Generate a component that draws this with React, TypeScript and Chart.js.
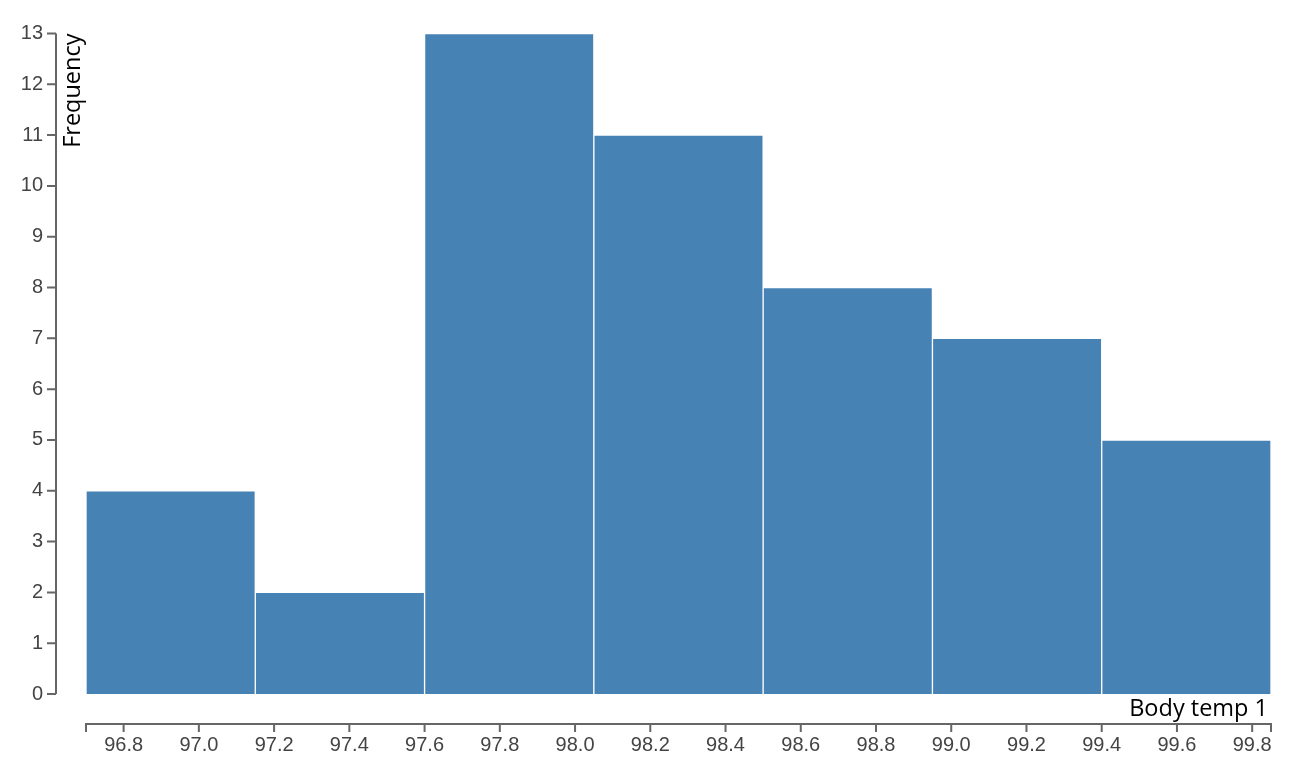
import React, { useEffect, useRef } from "react";
import { Chart, registerables } from "chart.js";

Chart.register(...registerables);

// Histogram bins (edges) and counts
const BIN_EDGES = [96.7, 97.15, 97.6, 98.05, 98.5, 98.95, 99.4, 99.85];
const BIN_LABELS = ["96.7–97.15", "97.15–97.6", "97.6–98.05", "98.05–98.5", "98.5–98.95", "98.95–99.4", "99.4–99.85"];
const COUNTS = [4, 2, 13, 11, 8, 7, 5];
const X_TICKS = [96.8, 97.0, 97.2, 97.4, 97.6, 97.8, 98.0, 98.2, 98.4, 98.6, 98.8, 99.0, 99.2, 99.4, 99.6, 99.8];
const Y_TICKS = [0, 1, 2, 3, 4, 5, 6, 7, 8, 9, 10, 11, 12, 13];
const X_TITLE = "Body temp 1";
const Y_TITLE = "Frequency";

const BAR_COLOR = "#4682b4";
const AXIS_COLOR = "#666666";
const TICK_TEXT = "#444444";
const TICK_FONT = { family: "'Liberation Sans', Arial, sans-serif", size: 20 };

const axesPlugin = {
  id: "offsetAxes",
  afterDraw(chart: any) {
    const ctx = chart.ctx;
    const xs = chart.scales.x;
    const ys = chart.scales.y;
    const area = chart.chartArea;
    ctx.save();
    ctx.strokeStyle = AXIS_COLOR;
    ctx.lineWidth = 2;
    // Y axis line offset to the left of the plot
    const yAxisX = area.left - 30;
    const y0 = ys.getPixelForValue(Y_TICKS[0]);
    const y1 = ys.getPixelForValue(Y_TICKS[Y_TICKS.length - 1]);
    ctx.beginPath();
    ctx.moveTo(yAxisX, y0);
    ctx.lineTo(yAxisX, y1);
    for (const v of Y_TICKS) {
      const py = ys.getPixelForValue(v);
      ctx.moveTo(yAxisX - 9, py);
      ctx.lineTo(yAxisX, py);
    }
    ctx.stroke();
    // X axis line offset below the plot
    const xAxisY = area.bottom + 30;
    const xa = xs.getPixelForValue(BIN_EDGES[0]);
    const xb = xs.getPixelForValue(BIN_EDGES[BIN_EDGES.length - 1]);
    ctx.beginPath();
    ctx.moveTo(xa, xAxisY + 8);
    ctx.lineTo(xa, xAxisY);
    ctx.lineTo(xb, xAxisY);
    ctx.lineTo(xb, xAxisY + 8);
    for (const v of X_TICKS) {
      const px = xs.getPixelForValue(v);
      ctx.moveTo(px, xAxisY);
      ctx.lineTo(px, xAxisY + 8);
    }
    ctx.stroke();
    // Titles
    ctx.fillStyle = "#000";
    ctx.font = "23.5px 'Open Sans'";
    ctx.textAlign = "right";
    ctx.textBaseline = "alphabetic";
    ctx.fillText(X_TITLE, xb - 3, xAxisY - 8);
    ctx.translate(yAxisX + 24, area.top);
    ctx.rotate(-Math.PI / 2);
    ctx.textAlign = "right";
    ctx.fillText(Y_TITLE, 0, 0);
    ctx.restore();
  },
};

export default function App() {
  const ref = useRef<HTMLCanvasElement>(null);
  useEffect(() => {
    document.body.style.margin = "0";
    const chart = new Chart(ref.current!, {
      type: "bar",
      data: {
        labels: BIN_LABELS,
        datasets: [
          {
            data: COUNTS,
            xAxisID: "xb",
            backgroundColor: BAR_COLOR,
            borderColor: "#ffffff",
            borderWidth: 1,
            barPercentage: 1,
            categoryPercentage: 1,
          },
        ],
      },
      options: {
        animation: false,
        responsive: false,
        layout: { padding: { left: 0, top: 33.5, right: 20, bottom: 0 } },
        plugins: { legend: { display: false }, tooltip: { enabled: false } },
        scales: {
          xb: {
            type: "category",
            display: false,
            offset: true,
          },
          x: {
            type: "linear",
            position: "bottom",
            offset: false,
            min: BIN_EDGES[0],
            max: BIN_EDGES[BIN_EDGES.length - 1],
            grid: { display: false, drawTicks: false },
            border: { display: false },
            afterBuildTicks: (s: any) => {
              s.ticks = X_TICKS.map((v) => ({ value: v }));
            },
            afterFit: (s: any) => {
              s.height = 88;
              s.paddingLeft = 0;
              s.paddingRight = 0;
            },
            ticks: {
              autoSkip: false,
              maxRotation: 0,
              padding: 39,
              color: TICK_TEXT,
              font: TICK_FONT,
              callback: (v: any) => Number(v).toFixed(1),
            },
          },
          y: {
            min: Y_TICKS[0],
            max: Y_TICKS[Y_TICKS.length - 1],
            grid: { display: false, drawTicks: false },
            border: { display: false },
            afterBuildTicks: (s: any) => {
              s.ticks = Y_TICKS.map((v) => ({ value: v }));
            },
            afterFit: (s: any) => {
              s.width = 86;
              s.paddingTop = 0;
              s.paddingBottom = 0;
            },
            ticks: {
              autoSkip: false,
              padding: 43,
              color: TICK_TEXT,
              font: TICK_FONT,
            },
          },
        },
      },
      plugins: [axesPlugin],
    });
    return () => chart.destroy();
  }, []);
  return (
    <div style={{ position: "absolute", left: 0, top: 0, width: 1291, height: 782 }}>
      <canvas ref={ref} width={1291} height={782} />
    </div>
  );
}
